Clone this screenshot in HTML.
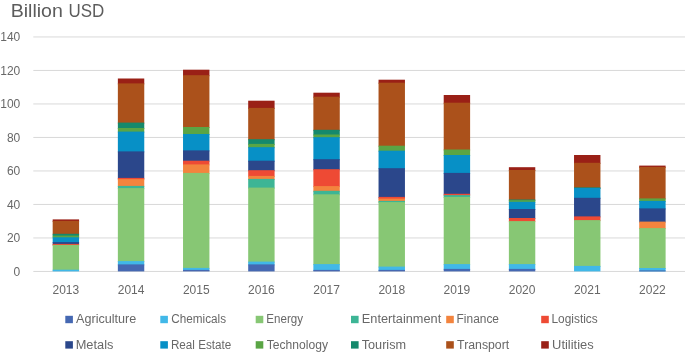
<!DOCTYPE html>
<html><head><meta charset="utf-8"><title>Billion USD</title>
<style>html,body{margin:0;padding:0;background:#fff}svg{display:block}text{font-family:"Liberation Sans",sans-serif;fill:#686868}</style></head>
<body>
<svg width="685" height="353" viewBox="0 0 685 353">
<rect width="685" height="353" fill="#fff"/>
<text y="16.8" font-size="18" style="fill:#5c5c5c"><tspan x="10.7" textLength="52.2" lengthAdjust="spacingAndGlyphs">Billion</tspan> <tspan x="68.4" textLength="35.8" lengthAdjust="spacingAndGlyphs">USD</tspan></text>
<rect x="33.3" y="270.95" width="651.7" height="1" fill="#D9D9D9"/>
<rect x="33.3" y="237.45" width="651.7" height="1" fill="#D9D9D9"/>
<rect x="33.3" y="203.95" width="651.7" height="1" fill="#D9D9D9"/>
<rect x="33.3" y="170.45" width="651.7" height="1" fill="#D9D9D9"/>
<rect x="33.3" y="136.95" width="651.7" height="1" fill="#D9D9D9"/>
<rect x="33.3" y="103.45" width="651.7" height="1" fill="#D9D9D9"/>
<rect x="33.3" y="69.95" width="651.7" height="1" fill="#D9D9D9"/>
<rect x="33.3" y="36.45" width="651.7" height="1" fill="#D9D9D9"/>
<text x="20.3" y="275.95" font-size="12" text-anchor="end">0</text>
<text x="20.3" y="242.45" font-size="12" text-anchor="end">20</text>
<text x="20.3" y="208.95" font-size="12" text-anchor="end">40</text>
<text x="20.3" y="175.45" font-size="12" text-anchor="end">60</text>
<text x="20.3" y="141.95" font-size="12" text-anchor="end">80</text>
<text x="20.3" y="108.45" font-size="12" text-anchor="end">100</text>
<text x="20.3" y="74.95" font-size="12" text-anchor="end">120</text>
<text x="20.3" y="41.45" font-size="12" text-anchor="end">140</text>
<rect x="52.68" y="219.40" width="26.4" height="2.50" fill="#9A2016"/>
<rect x="52.68" y="220.90" width="26.4" height="13.90" fill="#AB511B"/>
<rect x="52.68" y="233.80" width="26.4" height="2.80" fill="#15896C"/>
<rect x="52.68" y="235.60" width="26.4" height="2.70" fill="#5AA545"/>
<rect x="52.68" y="237.30" width="26.4" height="5.80" fill="#0790C6"/>
<rect x="52.68" y="242.10" width="26.4" height="2.80" fill="#2B478B"/>
<rect x="52.68" y="243.90" width="26.4" height="2.00" fill="#EE4A34"/>
<rect x="52.68" y="244.90" width="26.4" height="25.80" fill="#87C774"/>
<rect x="52.68" y="269.70" width="26.4" height="1.70" fill="#41B8E8"/>
<rect x="117.86" y="78.50" width="26.4" height="5.90" fill="#9A2016"/>
<rect x="117.86" y="83.40" width="26.4" height="40.20" fill="#AB511B"/>
<rect x="117.86" y="122.60" width="26.4" height="6.40" fill="#15896C"/>
<rect x="117.86" y="128.00" width="26.4" height="4.60" fill="#5AA545"/>
<rect x="117.86" y="131.60" width="26.4" height="20.80" fill="#0790C6"/>
<rect x="117.86" y="151.40" width="26.4" height="27.50" fill="#2B478B"/>
<rect x="117.86" y="177.90" width="26.4" height="2.20" fill="#EE4A34"/>
<rect x="117.86" y="179.10" width="26.4" height="7.80" fill="#F3843E"/>
<rect x="117.86" y="185.90" width="26.4" height="3.20" fill="#3DB595"/>
<rect x="117.86" y="188.10" width="26.4" height="74.00" fill="#87C774"/>
<rect x="117.86" y="261.10" width="26.4" height="4.30" fill="#41B8E8"/>
<rect x="117.86" y="264.40" width="26.4" height="7.00" fill="#4568B2"/>
<rect x="183.03" y="69.70" width="26.4" height="6.50" fill="#9A2016"/>
<rect x="183.03" y="75.20" width="26.4" height="52.80" fill="#AB511B"/>
<rect x="183.03" y="127.00" width="26.4" height="8.00" fill="#5AA545"/>
<rect x="183.03" y="134.00" width="26.4" height="17.40" fill="#0790C6"/>
<rect x="183.03" y="150.40" width="26.4" height="11.30" fill="#2B478B"/>
<rect x="183.03" y="160.70" width="26.4" height="4.70" fill="#EE4A34"/>
<rect x="183.03" y="164.40" width="26.4" height="9.50" fill="#F3843E"/>
<rect x="183.03" y="172.90" width="26.4" height="96.00" fill="#87C774"/>
<rect x="183.03" y="267.90" width="26.4" height="3.00" fill="#41B8E8"/>
<rect x="183.03" y="269.90" width="26.4" height="1.50" fill="#4568B2"/>
<rect x="248.19" y="100.70" width="26.4" height="8.20" fill="#9A2016"/>
<rect x="248.19" y="107.90" width="26.4" height="32.30" fill="#AB511B"/>
<rect x="248.19" y="139.20" width="26.4" height="5.70" fill="#15896C"/>
<rect x="248.19" y="143.90" width="26.4" height="4.30" fill="#5AA545"/>
<rect x="248.19" y="147.20" width="26.4" height="14.50" fill="#0790C6"/>
<rect x="248.19" y="160.70" width="26.4" height="10.50" fill="#2B478B"/>
<rect x="248.19" y="170.20" width="26.4" height="6.70" fill="#EE4A34"/>
<rect x="248.19" y="175.90" width="26.4" height="4.00" fill="#F3843E"/>
<rect x="248.19" y="178.90" width="26.4" height="9.70" fill="#3DB595"/>
<rect x="248.19" y="187.60" width="26.4" height="75.00" fill="#87C774"/>
<rect x="248.19" y="261.60" width="26.4" height="3.80" fill="#41B8E8"/>
<rect x="248.19" y="264.40" width="26.4" height="7.00" fill="#4568B2"/>
<rect x="313.37" y="92.70" width="26.4" height="5.00" fill="#9A2016"/>
<rect x="313.37" y="96.70" width="26.4" height="34.10" fill="#AB511B"/>
<rect x="313.37" y="129.80" width="26.4" height="5.70" fill="#15896C"/>
<rect x="313.37" y="134.50" width="26.4" height="3.70" fill="#5AA545"/>
<rect x="313.37" y="137.20" width="26.4" height="23.00" fill="#0790C6"/>
<rect x="313.37" y="159.20" width="26.4" height="11.00" fill="#2B478B"/>
<rect x="313.37" y="169.20" width="26.4" height="17.90" fill="#EE4A34"/>
<rect x="313.37" y="186.10" width="26.4" height="5.70" fill="#F3843E"/>
<rect x="313.37" y="190.80" width="26.4" height="4.50" fill="#3DB595"/>
<rect x="313.37" y="194.30" width="26.4" height="70.80" fill="#87C774"/>
<rect x="313.37" y="264.10" width="26.4" height="6.80" fill="#41B8E8"/>
<rect x="313.37" y="269.90" width="26.4" height="1.50" fill="#4568B2"/>
<rect x="378.54" y="79.70" width="26.4" height="4.00" fill="#9A2016"/>
<rect x="378.54" y="82.70" width="26.4" height="64.00" fill="#AB511B"/>
<rect x="378.54" y="145.70" width="26.4" height="6.00" fill="#5AA545"/>
<rect x="378.54" y="150.70" width="26.4" height="18.50" fill="#0790C6"/>
<rect x="378.54" y="168.20" width="26.4" height="29.70" fill="#2B478B"/>
<rect x="378.54" y="196.90" width="26.4" height="2.70" fill="#EE4A34"/>
<rect x="378.54" y="198.60" width="26.4" height="3.30" fill="#F3843E"/>
<rect x="378.54" y="200.90" width="26.4" height="2.20" fill="#3DB595"/>
<rect x="378.54" y="202.10" width="26.4" height="65.50" fill="#87C774"/>
<rect x="378.54" y="266.60" width="26.4" height="4.30" fill="#41B8E8"/>
<rect x="378.54" y="269.90" width="26.4" height="1.50" fill="#4568B2"/>
<rect x="443.71" y="95.00" width="26.4" height="8.70" fill="#9A2016"/>
<rect x="443.71" y="102.70" width="26.4" height="47.80" fill="#AB511B"/>
<rect x="443.71" y="149.50" width="26.4" height="6.50" fill="#5AA545"/>
<rect x="443.71" y="155.00" width="26.4" height="18.90" fill="#0790C6"/>
<rect x="443.71" y="172.90" width="26.4" height="21.90" fill="#2B478B"/>
<rect x="443.71" y="193.80" width="26.4" height="2.30" fill="#EE4A34"/>
<rect x="443.71" y="195.10" width="26.4" height="2.80" fill="#3DB595"/>
<rect x="443.71" y="196.90" width="26.4" height="68.20" fill="#87C774"/>
<rect x="443.71" y="264.10" width="26.4" height="5.80" fill="#41B8E8"/>
<rect x="443.71" y="268.90" width="26.4" height="2.50" fill="#4568B2"/>
<rect x="508.88" y="167.20" width="26.4" height="3.80" fill="#9A2016"/>
<rect x="508.88" y="170.00" width="26.4" height="30.50" fill="#AB511B"/>
<rect x="508.88" y="199.50" width="26.4" height="1.70" fill="#15896C"/>
<rect x="508.88" y="200.20" width="26.4" height="2.60" fill="#5AA545"/>
<rect x="508.88" y="201.80" width="26.4" height="8.20" fill="#0790C6"/>
<rect x="508.88" y="209.00" width="26.4" height="10.00" fill="#2B478B"/>
<rect x="508.88" y="218.00" width="26.4" height="4.10" fill="#EE4A34"/>
<rect x="508.88" y="221.10" width="26.4" height="44.00" fill="#87C774"/>
<rect x="508.88" y="264.10" width="26.4" height="5.80" fill="#41B8E8"/>
<rect x="508.88" y="268.90" width="26.4" height="2.50" fill="#4568B2"/>
<rect x="574.04" y="155.00" width="26.4" height="8.80" fill="#9A2016"/>
<rect x="574.04" y="162.80" width="26.4" height="25.60" fill="#AB511B"/>
<rect x="574.04" y="187.40" width="26.4" height="1.50" fill="#15896C"/>
<rect x="574.04" y="187.90" width="26.4" height="10.90" fill="#0790C6"/>
<rect x="574.04" y="197.80" width="26.4" height="19.60" fill="#2B478B"/>
<rect x="574.04" y="216.40" width="26.4" height="4.70" fill="#EE4A34"/>
<rect x="574.04" y="220.10" width="26.4" height="46.80" fill="#87C774"/>
<rect x="574.04" y="265.90" width="26.4" height="5.50" fill="#41B8E8"/>
<rect x="639.21" y="165.60" width="26.4" height="2.30" fill="#9A2016"/>
<rect x="639.21" y="166.90" width="26.4" height="32.50" fill="#AB511B"/>
<rect x="639.21" y="198.40" width="26.4" height="3.50" fill="#5AA545"/>
<rect x="639.21" y="200.90" width="26.4" height="8.50" fill="#0790C6"/>
<rect x="639.21" y="208.40" width="26.4" height="14.20" fill="#2B478B"/>
<rect x="639.21" y="221.60" width="26.4" height="7.50" fill="#F3843E"/>
<rect x="639.21" y="228.10" width="26.4" height="40.90" fill="#87C774"/>
<rect x="639.21" y="268.00" width="26.4" height="3.40" fill="#41B8E8"/>
<rect x="639.21" y="270.40" width="26.4" height="1.00" fill="#4568B2"/>
<text x="65.88" y="293.9" font-size="12" text-anchor="middle">2013</text>
<text x="131.06" y="293.9" font-size="12" text-anchor="middle">2014</text>
<text x="196.23" y="293.9" font-size="12" text-anchor="middle">2015</text>
<text x="261.39" y="293.9" font-size="12" text-anchor="middle">2016</text>
<text x="326.56" y="293.9" font-size="12" text-anchor="middle">2017</text>
<text x="391.74" y="293.9" font-size="12" text-anchor="middle">2018</text>
<text x="456.91" y="293.9" font-size="12" text-anchor="middle">2019</text>
<text x="522.08" y="293.9" font-size="12" text-anchor="middle">2020</text>
<text x="587.25" y="293.9" font-size="12" text-anchor="middle">2021</text>
<text x="652.41" y="293.9" font-size="12" text-anchor="middle">2022</text>
<rect x="65.3" y="315.8" width="7.6" height="7.4" fill="#4568B2"/>
<text x="76.1" y="323.3" font-size="12" textLength="60.2" lengthAdjust="spacingAndGlyphs">Agriculture</text>
<rect x="160.3" y="315.8" width="7.6" height="7.4" fill="#41B8E8"/>
<text x="171.3" y="323.3" font-size="12" textLength="54.7" lengthAdjust="spacingAndGlyphs">Chemicals</text>
<rect x="255.7" y="315.8" width="7.6" height="7.4" fill="#87C774"/>
<text x="266.3" y="323.3" font-size="12" textLength="36.7" lengthAdjust="spacingAndGlyphs">Energy</text>
<rect x="351.0" y="315.8" width="7.6" height="7.4" fill="#3DB595"/>
<text x="361.8" y="323.3" font-size="12" textLength="79.4" lengthAdjust="spacingAndGlyphs">Entertainment</text>
<rect x="446.2" y="315.8" width="7.6" height="7.4" fill="#F3843E"/>
<text x="456.6" y="323.3" font-size="12" textLength="42.4" lengthAdjust="spacingAndGlyphs">Finance</text>
<rect x="541.2" y="315.8" width="7.6" height="7.4" fill="#EE4A34"/>
<text x="551.5" y="323.3" font-size="12" textLength="46.2" lengthAdjust="spacingAndGlyphs">Logistics</text>
<rect x="65.3" y="341.2" width="7.6" height="7.4" fill="#2B478B"/>
<text x="75.7" y="348.5" font-size="12" textLength="37.7" lengthAdjust="spacingAndGlyphs">Metals</text>
<rect x="160.3" y="341.2" width="7.6" height="7.4" fill="#0790C6"/>
<text x="170.9" y="348.5" font-size="12" textLength="60.4" lengthAdjust="spacingAndGlyphs">Real Estate</text>
<rect x="255.7" y="341.2" width="7.6" height="7.4" fill="#5AA545"/>
<text x="266.8" y="348.5" font-size="12" textLength="61.2" lengthAdjust="spacingAndGlyphs">Technology</text>
<rect x="351.0" y="341.2" width="7.6" height="7.4" fill="#15896C"/>
<text x="361.7" y="348.5" font-size="12" textLength="44.4" lengthAdjust="spacingAndGlyphs">Tourism</text>
<rect x="446.2" y="341.2" width="7.6" height="7.4" fill="#AB511B"/>
<text x="457.1" y="348.5" font-size="12" textLength="52.1" lengthAdjust="spacingAndGlyphs">Transport</text>
<rect x="541.2" y="341.2" width="7.6" height="7.4" fill="#9A2016"/>
<text x="552.1" y="348.5" font-size="12" textLength="41.6" lengthAdjust="spacingAndGlyphs">Utilities</text>
</svg>
</body></html>
